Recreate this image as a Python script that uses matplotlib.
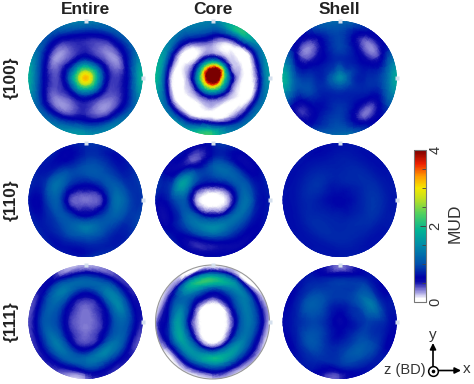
import numpy as np
import matplotlib
matplotlib.use('Agg')
import matplotlib.pyplot as plt
import matplotlib.tri as mtri
from matplotlib.colors import LinearSegmentedColormap, Normalize
from matplotlib.cm import ScalarMappable
from matplotlib.patches import Circle

plt.rcParams['font.family'] = ['Liberation Sans', 'DejaVu Sans']

# grid the values were read on: centre + rings, azimuth every 30 deg ccw from +x
ring_radii = [0.15, 0.30, 0.45, 0.60, 0.75, 0.90, 1.04]
azimuths = np.deg2rad(np.arange(0, 360, 30))

col_names = ['Entire', 'Core', 'Shell']
row_names = ['{100}', '{110}', '{111}']

# MUD values, first number = centre, then one row per ring
entire_100 = [3.2,
    [2.4, 2.45, 2.4, 2.4, 2.4, 2.35, 2.4, 2.35, 2.4, 2.35, 2.4, 2.4],
    [1.0, 1.05, 0.95, 1.0, 0.95, 1.0, 1.05, 0.95, 0.95, 0.95, 0.95, 1.0],
    [0.46, 0.44, 0.42, 0.5, 0.42, 0.44, 0.46, 0.46, 0.42, 0.48, 0.4, 0.44],
    [0.46, 0.27, 0.34, 0.46, 0.37, 0.27, 0.44, 0.34, 0.3, 0.46, 0.27, 0.4],
    [0.72, 0.5, 0.48, 0.62, 0.5, 0.52, 0.72, 0.45, 0.5, 0.68, 0.45, 0.52],
    [1.5, 0.9, 0.9, 1.1, 0.9, 1.0, 1.4, 0.9, 1.1, 1.3, 1.1, 0.9],
    [2.0, 1.3, 1.2, 1.5, 1.2, 1.3, 2.0, 1.3, 1.5, 1.6, 1.5, 1.3]]
core_100 = [4.8,
    [3.5, 4.3, 4.7, 4.4, 4.1, 3.7, 3.3, 3.2, 3.1, 3.1, 3.1, 3.2],
    [1.1, 1.2, 1.5, 1.5, 1.4, 1.2, 1.1, 1.0, 0.95, 0.9, 0.95, 1.0],
    [0.22, 0.18, 0.2, 0.25, 0.2, 0.22, 0.22, 0.2, 0.2, 0.25, 0.2, 0.18],
    [0.03, 0.03, 0.08, 0.28, 0.12, 0.03, 0.03, 0.03, 0.03, 0.05, 0.03, 0.03],
    [0.25, 0.12, 0.5, 0.7, 0.6, 0.4, 0.3, 0.12, 0.15, 0.35, 0.25, 0.15],
    [1.2, 1.0, 1.8, 1.2, 1.1, 1.3, 1.5, 0.9, 1.0, 1.7, 0.9, 1.0],
    [1.7, 1.5, 1.9, 1.4, 1.4, 1.6, 2.0, 1.5, 1.8, 2.1, 1.5, 1.4]]
shell_100 = [1.5,
    [1.1, 1.1, 1.05, 1.15, 1.05, 1.05, 1.1, 1.1, 1.05, 1.05, 1.05, 1.1],
    [0.8, 0.85, 0.8, 0.85, 0.8, 0.8, 0.8, 0.85, 0.8, 0.8, 0.8, 0.85],
    [0.8, 0.7, 0.75, 0.9, 0.7, 0.68, 0.85, 0.85, 0.75, 0.85, 0.75, 0.8],
    [0.85, 0.55, 0.6, 0.95, 0.62, 0.5, 0.9, 0.9, 0.7, 0.9, 0.6, 0.7],
    [1.0, 0.42, 0.42, 0.95, 0.55, 0.38, 1.0, 0.7, 0.7, 0.95, 0.38, 0.6],
    [1.5, 0.7, 0.6, 1.05, 0.75, 0.65, 1.6, 0.65, 0.7, 1.05, 0.6, 0.85],
    [1.9, 0.9, 0.85, 1.25, 0.9, 0.9, 2.0, 0.85, 0.9, 1.3, 0.85, 1.0]]
entire_110 = [0.33,
    [0.36, 0.38, 0.43, 0.47, 0.43, 0.38, 0.36, 0.38, 0.43, 0.47, 0.43, 0.38],
    [0.5, 0.6, 0.72, 0.75, 0.72, 0.6, 0.5, 0.6, 0.72, 0.75, 0.72, 0.6],
    [1.05, 1.0, 1.0, 1.0, 0.95, 1.05, 1.0, 1.0, 1.1, 1.3, 1.1, 1.0],
    [1.25, 1.05, 1.0, 1.0, 0.95, 1.25, 1.05, 0.95, 1.05, 1.15, 1.05, 1.1],
    [1.0, 0.85, 0.85, 0.85, 0.7, 0.9, 0.75, 0.8, 0.85, 0.85, 0.85, 0.9],
    [0.85, 0.8, 0.7, 0.8, 0.65, 0.75, 0.65, 0.75, 0.7, 0.7, 0.75, 0.85],
    [0.95, 0.9, 0.8, 0.9, 0.8, 0.8, 0.8, 0.85, 0.8, 0.85, 0.85, 0.95]]
core_110 = [0.02,
    [0.05, 0.08, 0.12, 0.18, 0.12, 0.08, 0.05, 0.08, 0.12, 0.18, 0.12, 0.08],
    [0.3, 0.4, 0.62, 0.72, 0.62, 0.4, 0.3, 0.45, 0.68, 0.8, 0.65, 0.42],
    [0.95, 0.9, 1.05, 1.0, 0.95, 1.15, 0.95, 1.1, 1.3, 1.45, 1.3, 1.15],
    [1.25, 1.1, 1.15, 1.05, 0.9, 1.7, 1.05, 1.0, 1.15, 1.2, 1.1, 1.15],
    [0.85, 0.8, 0.75, 0.75, 0.45, 0.95, 0.8, 0.75, 0.65, 0.6, 0.75, 0.8],
    [0.7, 0.65, 0.6, 0.7, 0.55, 0.65, 0.65, 0.6, 0.55, 0.55, 0.55, 0.65],
    [0.8, 0.8, 0.75, 0.85, 0.75, 0.75, 0.8, 0.75, 0.75, 0.8, 0.75, 0.75]]
shell_110 = [0.66,
    [0.68, 0.7, 0.69, 0.71, 0.7, 0.69, 0.68, 0.69, 0.7, 0.71, 0.69, 0.69],
    [0.76, 0.76, 0.78, 0.78, 0.76, 0.78, 0.74, 0.76, 0.78, 0.78, 0.76, 0.76],
    [0.84, 0.82, 0.82, 0.8, 0.82, 0.86, 0.8, 0.8, 0.82, 0.8, 0.82, 0.82],
    [0.88, 0.84, 0.82, 0.78, 0.8, 0.84, 0.8, 0.82, 0.84, 0.82, 0.82, 0.86],
    [0.82, 0.78, 0.76, 0.76, 0.74, 0.76, 0.74, 0.76, 0.78, 0.8, 0.78, 0.8],
    [0.74, 0.72, 0.7, 0.72, 0.68, 0.7, 0.7, 0.7, 0.72, 0.74, 0.72, 0.74],
    [0.77, 0.74, 0.72, 0.74, 0.72, 0.72, 0.72, 0.72, 0.74, 0.76, 0.74, 0.76]]
entire_111 = [0.33,
    [0.36, 0.36, 0.34, 0.33, 0.34, 0.36, 0.36, 0.36, 0.34, 0.33, 0.34, 0.36],
    [0.5, 0.48, 0.42, 0.37, 0.42, 0.48, 0.5, 0.48, 0.42, 0.37, 0.42, 0.48],
    [0.85, 0.8, 0.62, 0.55, 0.65, 0.8, 0.85, 0.85, 0.65, 0.55, 0.7, 0.85],
    [1.15, 1.4, 1.2, 1.0, 1.2, 1.15, 1.05, 1.3, 1.15, 1.1, 1.4, 1.2],
    [1.0, 1.2, 1.15, 1.1, 1.2, 1.05, 1.0, 1.05, 1.05, 1.1, 1.1, 1.05],
    [0.6, 0.6, 0.55, 0.45, 0.55, 0.6, 0.55, 0.6, 0.55, 0.5, 0.6, 0.55],
    [0.45, 0.5, 0.4, 0.2, 0.4, 0.45, 0.4, 0.45, 0.4, 0.25, 0.45, 0.45]]
core_111 = [0.0,
    [0.0, 0.0, 0.0, 0.0, 0.0, 0.0, 0.0, 0.0, 0.0, 0.0, 0.0, 0.0],
    [0.25, 0.2, 0.06, 0.02, 0.06, 0.2, 0.25, 0.2, 0.06, 0.02, 0.06, 0.2],
    [0.85, 0.8, 0.6, 0.5, 0.6, 0.8, 0.9, 0.9, 0.65, 0.5, 0.7, 0.85],
    [1.3, 1.3, 1.1, 1.2, 1.3, 1.25, 1.65, 1.7, 1.5, 1.8, 1.65, 1.35],
    [1.05, 1.2, 1.6, 2.1, 1.9, 1.0, 0.95, 1.15, 1.2, 1.35, 1.2, 1.0],
    [0.5, 0.45, 0.45, 0.6, 0.45, 0.4, 0.55, 0.4, 0.4, 0.5, 0.45, 0.45],
    [0.1, 0.05, 0.02, 0.02, 0.02, 0.05, 0.15, 0.05, 0.05, 0.05, 0.05, 0.1]]
shell_111 = [0.58,
    [0.68, 0.7, 0.68, 0.65, 0.68, 0.7, 0.72, 0.7, 0.68, 0.65, 0.68, 0.68],
    [0.8, 0.85, 0.8, 0.78, 0.8, 0.9, 0.88, 0.88, 0.75, 0.72, 0.8, 0.8],
    [0.9, 1.0, 0.95, 0.9, 0.95, 1.05, 0.95, 1.0, 0.85, 0.85, 0.95, 0.95],
    [0.9, 1.35, 1.0, 0.9, 0.95, 1.1, 0.9, 1.05, 0.9, 0.9, 1.1, 0.95],
    [0.85, 1.0, 0.95, 0.85, 0.85, 0.9, 0.8, 0.9, 0.85, 0.85, 0.95, 0.9],
    [0.7, 0.7, 0.75, 0.42, 0.75, 0.7, 0.7, 0.7, 0.75, 0.5, 0.75, 0.7],
    [0.7, 0.7, 0.7, 0.35, 0.7, 0.65, 0.7, 0.7, 0.7, 0.45, 0.7, 0.7]]

panels = [[entire_100, core_100, shell_100],
          [entire_110, core_110, shell_110],
          [entire_111, core_111, shell_111]]

cmap = LinearSegmentedColormap.from_list('mud', [
    (0.0, '#ffffff'), (0.02, '#ffffff'), (0.05, '#bcb8ea'), (0.0875, '#6e68cc'),
    (0.13, '#0a0aa8'), (0.16, '#0000a8'), (0.25, '#0050ac'), (0.375, '#008ca8'),
    (0.47, '#00b394'), (0.58, '#4fd060'), (0.68, '#c0e020'), (0.75, '#f5e800'),
    (0.83, '#ff9900'), (0.91, '#ee2000'), (1.0, '#7a0000')])
norm = Normalize(0, 4)

W, H = 474, 384
fig = plt.figure(figsize=(W / 100, H / 100), dpi=100)

col_x = [85.5, 212.5, 339.7]
row_y = [78, 200, 322]
R = 57
pad = 3

rr, aa = np.meshgrid(ring_radii, azimuths, indexing='ij')
xs = np.r_[0, (rr * np.cos(aa)).ravel()]
ys = np.r_[0, (rr * np.sin(aa)).ravel()]
tri = mtri.Triangulation(xs, ys)
refiner = mtri.UniformTriRefiner(tri)

for i, cy in enumerate(row_y):
    for j, cx in enumerate(col_x):
        ax = fig.add_axes([(cx - R - pad) / W, 1 - (cy + R + pad) / H,
                           (2 * R + 2 * pad) / W, (2 * R + 2 * pad) / H])
        ax.set_xlim(-(R + pad) / R, (R + pad) / R)
        ax.set_ylim(-(R + pad) / R, (R + pad) / R)
        ax.axis('off')
        centre, rings = panels[i][j][0], panels[i][j][1:]
        z = np.r_[centre, np.ravel(rings)]
        tri2, z2 = refiner.refine_field(z, subdiv=3)
        m = ax.tripcolor(tri2, np.clip(z2, 0, 4), shading='gouraud', cmap=cmap, norm=norm)
        m.set_clip_path(Circle((0, 0), 1, transform=ax.transData))
        if i == 2 and j == 1:
            ax.add_patch(Circle((0, 0), 1, fc='none', ec='#9a9a9a', lw=0.8))
        ax.plot([0, 1], [1, 0], ls='', marker='s', ms=2.2, mfc='#d5e0ee', mec='none', clip_on=False)

# overlay in pixel coords for the labels
ov = fig.add_axes([0, 0, 1, 1], zorder=5)
ov.set_xlim(0, W)
ov.set_ylim(H, 0)
ov.axis('off')
ov.patch.set_alpha(0)

for name, cx in zip(col_names, col_x):
    ov.text(cx, 9.5, name, ha='center', va='center', fontsize=12.5, fontweight='bold', color='#222222')
for name, cy in zip(row_names, row_y):
    ov.text(11, cy, name, ha='center', va='center', rotation=90, fontsize=12.5, fontweight='bold', color='#222222')

# colorbar
cax = fig.add_axes([413.5 / W, 1 - 302 / H, 12 / W, 152 / H])
cb = fig.colorbar(ScalarMappable(norm=norm, cmap=cmap), cax=cax)
cb.set_ticks([0, 2, 4])
cb.set_ticks(np.arange(0, 4.01, 0.5), minor=True)
cax.tick_params(which='major', direction='in', length=4, width=0.7, color='#444444', pad=2, labelsize=10.5, labelcolor='#333333')
cax.tick_params(which='minor', direction='in', length=3, width=0.6, color='#444444')
for lab in cax.get_yticklabels():
    lab.set_rotation(90)
    lab.set_va('center')
cb.outline.set_edgecolor('#777777')
cb.outline.set_linewidth(0.8)
ov.text(455, 223, 'MUD', rotation=90, ha='center', va='center', fontsize=12.5, color='#333333')

# coordinate triad
ox, oy = 433, 370.5
ov.annotate('', xy=(ox, 343), xytext=(ox, oy - 3), arrowprops=dict(arrowstyle='-|>', color='black', lw=1.2, shrinkA=0, shrinkB=0, mutation_scale=9))
ov.annotate('', xy=(461, oy), xytext=(ox + 3, oy), arrowprops=dict(arrowstyle='-|>', color='black', lw=1.2, shrinkA=0, shrinkB=0, mutation_scale=9))
ov.plot([ox], [oy], marker='o', ms=7, mfc='white', mec='black', mew=1.1, zorder=4)
ov.plot([ox], [oy], marker='o', ms=1.6, color='black', zorder=5)
ov.text(433, 335, 'y', ha='center', va='center', fontsize=11, color='#333333')
ov.text(467, 369, 'x', ha='center', va='center', fontsize=11, color='#333333')
ov.text(426, 370, 'z (BD)', ha='right', va='center', fontsize=10.5, color='#333333')

fig.savefig('out.png', dpi=100)
